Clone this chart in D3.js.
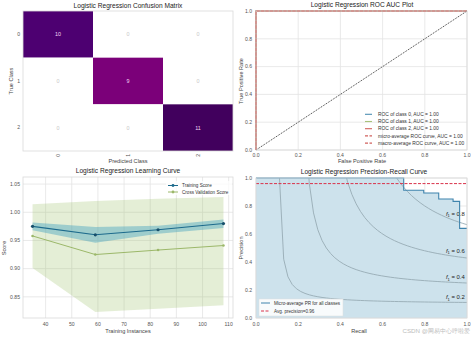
<!DOCTYPE html>
<html><head><meta charset="utf-8">
<script src="https://cdn.jsdelivr.net/npm/d3@7"></script>
<style>
html,body{margin:0;padding:0;background:#fff;}
svg text{font-family:"Liberation Sans",Arial,sans-serif;}
</style></head>
<body><svg id="c" width="474" height="337"></svg>
<script>
// ---------- data ----------
const cmClasses = ["0","1","2"];
const cmValues = [[10,0,0],[0,9,0],[0,0,11]];

const rocLabels = ["ROC of class 0, AUC = 1.00","ROC of class 1, AUC = 1.00","ROC of class 2, AUC = 1.00","micro-average ROC curve, AUC = 1.00","macro-average ROC curve, AUC = 1.00"];
const rocFpr = [0,0,1];
const rocTpr = [0,1,1];
const rocTicks = [0,0.2,0.4,0.6,0.8,1.0];

const lcSizes = [35,59,83,108];
const lcTrain = [0.975,0.960,0.969,0.980];
const lcTrainLo = [0.968,0.946,0.962,0.972];
const lcTrainHi = [0.982,0.974,0.976,0.987];
const lcCV = [0.958,0.925,0.933,0.941];
const lcCVLo = [0.901,0.823,0.829,0.835];
const lcCVHi = [1.014,1.020,1.024,1.027];
const lcXTicks = [40,50,60,70,80,90,100,110];
const lcYTicks = [0.85,0.90,0.95,1.00,1.05];

const prRecall = [0,0.70,0.795,0.866,0.934,0.965,1.0];
const prPrecision = [1.0,0.912,0.893,0.850,0.833,0.640,0.640];
const prAvg = 0.96;
const f1Values = [0.2,0.4,0.6,0.8];

const svg = d3.select("#c");
const grid = "#e3e3e3", frame = "#d9d9d9", tickCol = "#555", labCol = "#444";
const fT = 6.6, fTick = 5.1, fLab = 5.6;

function title(x, y, t){ svg.append("text").attr("x",x).attr("y",y).attr("text-anchor","middle").attr("font-size",fT).attr("fill","#222").text(t); }
function label(x,y,t,rot){ const e=svg.append("text").attr("text-anchor","middle").attr("font-size",fLab).attr("fill",labCol).text(t);
  if(rot) e.attr("transform",`translate(${x},${y}) rotate(-90)`); else e.attr("x",x).attr("y",y); }
function frameRect(x0,y0,x1,y1){ svg.append("rect").attr("x",x0).attr("y",y0).attr("width",x1-x0).attr("height",y1-y0).attr("fill","none").attr("stroke",frame).attr("stroke-width",0.8); }
function xTicks(scale, ticks, y, fmt){ ticks.forEach(t=>svg.append("text").attr("x",scale(t)).attr("y",y).attr("text-anchor","middle").attr("font-size",fTick).attr("fill",tickCol).text(fmt(t))); }
function yTicks(scale, ticks, x, fmt){ ticks.forEach(t=>svg.append("text").attr("x",x).attr("y",scale(t)+1.7).attr("text-anchor","end").attr("font-size",fTick).attr("fill",tickCol).text(fmt(t))); }
function gridLines(xs, ys, xScale, yScale, g){
  xs.forEach(t=>g.append("line").attr("x1",xScale(t)).attr("x2",xScale(t)).attr("y1",yScale.range()[0]).attr("y2",yScale.range()[1]).attr("stroke",grid).attr("stroke-width",0.8));
  ys.forEach(t=>g.append("line").attr("y1",yScale(t)).attr("y2",yScale(t)).attr("x1",xScale.range()[0]).attr("x2",xScale.range()[1]).attr("stroke",grid).attr("stroke-width",0.8));
}

// ---------- 1. Confusion matrix ----------
(function(){
  const x = d3.scaleBand().domain(cmClasses).range([23,233]);
  const y = d3.scaleBand().domain(cmClasses).range([11,151]);
  const color = d3.scaleLinear().domain([9,10,11]).range(["#7b0079","#4d0071","#41005d"]);
  const g = svg.append("g");
  cmValues.forEach((row,i)=>row.forEach((v,j)=>{
    g.append("rect").attr("x",x(cmClasses[j])).attr("y",y(cmClasses[i])).attr("width",x.bandwidth()).attr("height",y.bandwidth())
      .attr("fill", v===0 ? "#fff" : color(v));
    g.append("text").attr("x",x(cmClasses[j])+x.bandwidth()/2).attr("y",y(cmClasses[i])+y.bandwidth()/2+1.9)
      .attr("text-anchor","middle").attr("font-size",5.4).attr("fill", v===0 ? "#c8c8c8" : "#f3d6f3").text(v);
  }));
  frameRect(23,11,233,151);
  title(128,7.5,"Logistic Regression Confusion Matrix");
  cmClasses.forEach(c=>{
    svg.append("text").attr("x",20).attr("y",y(c)+y.bandwidth()/2+1.8).attr("text-anchor","end").attr("font-size",fTick).attr("fill",tickCol).text(c);
    svg.append("text").attr("transform",`translate(${x(c)+x.bandwidth()/2+1.7},${154}) rotate(-90)`).attr("text-anchor","end").attr("font-size",fTick).attr("fill",tickCol).text(c);
  });
  label(128,163,"Predicted Class");
  label(13,81,"True Class",true);
})();

// ---------- 2. ROC AUC ----------
(function(){
  const x = d3.scaleLinear().domain([0,1]).range([256,467]);
  const y = d3.scaleLinear().domain([0,1]).range([150,11]);
  const g = svg.append("g");
  gridLines(rocTicks, rocTicks, x, y, g);
  const pts = rocFpr.map((f,i)=>[f,rocTpr[i]]);
  const line = d3.line().x(d=>x(d[0])).y(d=>y(d[1]));
  const cols = ["#4d8fb3","#a8c27a","#d1615d","#d1615d","#d1615d"];
  const dashes = [null,null,null,"3,1.5","3,1.5"];
  cols.forEach((c,i)=>g.append("path").attr("d",line(pts)).attr("fill","none").attr("stroke",c).attr("stroke-width",1.1).attr("stroke-dasharray",dashes[i]));
  g.append("path").attr("d",line([[0,0],[1,1]])).attr("fill","none").attr("stroke","#222").attr("stroke-width",0.9).attr("stroke-dasharray","1,1");
  frameRect(256,11,467,150);
  title(362,7,"Logistic Regression ROC AUC Plot");
  xTicks(x, rocTicks, 157, d3.format(".1f"));
  yTicks(y, rocTicks, 252, d3.format(".1f"));
  label(362,163,"False Positive Rate");
  label(243,81,"True Positive Rate",true);
  rocLabels.forEach((t,i)=>{
    const yy = 114.3 + i*7.2;
    svg.append("line").attr("x1",365).attr("x2",372).attr("y1",yy).attr("y2",yy).attr("stroke",cols[i]).attr("stroke-width",1.1).attr("stroke-dasharray",dashes[i]);
    svg.append("text").attr("x",378).attr("y",yy+1.7).attr("font-size",4.9).attr("fill","#333").text(t);
  });
})();

// ---------- 3. Learning curve ----------
(function(){
  const x = d3.scaleLinear().domain([31.35,111.65]).range([23,233]);
  const y = d3.scaleLinear().domain([0.8125,1.0625]).range([318,177]);
  const g = svg.append("g");
  gridLines(lcXTicks, lcYTicks, x, y, g);
  const area = d3.area().x((d,i)=>x(lcSizes[i])).y0(d=>y(d[0])).y1(d=>y(d[1]));
  g.append("path").attr("d",area(lcCVLo.map((v,i)=>[v,lcCVHi[i]]))).attr("fill","#9dc16a").attr("fill-opacity",0.28);
  g.append("path").attr("d",area(lcTrainLo.map((v,i)=>[v,lcTrainHi[i]]))).attr("fill","#4aa3c0").attr("fill-opacity",0.45);
  const line = d3.line().x((d,i)=>x(lcSizes[i])).y(d=>y(d));
  g.append("path").attr("d",line(lcCV)).attr("fill","none").attr("stroke","#9cb86a").attr("stroke-width",1);
  g.append("path").attr("d",line(lcTrain)).attr("fill","none").attr("stroke","#1c6a8c").attr("stroke-width",1.1);
  lcCV.forEach((v,i)=>g.append("circle").attr("cx",x(lcSizes[i])).attr("cy",y(v)).attr("r",1.3).attr("fill","#9cb86a"));
  lcTrain.forEach((v,i)=>g.append("circle").attr("cx",x(lcSizes[i])).attr("cy",y(v)).attr("r",1.6).attr("fill","#174f6b"));
  frameRect(23,177,233,318);
  title(128,173,"Logistic Regression Learning Curve");
  xTicks(x, lcXTicks, 325.5, d3.format("d"));
  yTicks(y, lcYTicks, 20, d3.format(".2f"));
  label(128,332.5,"Training Instances");
  label(6,248,"Score",true);
  svg.append("rect").attr("x",166).attr("y",181).attr("width",66).attr("height",14).attr("fill","#fff").attr("fill-opacity",0.75);
  [["Training Score","#1c6a8c",185.5],["Cross Validation Score","#9cb86a",192]].forEach(([t,c,yy])=>{
    svg.append("line").attr("x1",168).attr("x2",178).attr("y1",yy).attr("y2",yy).attr("stroke",c).attr("stroke-width",1);
    svg.append("circle").attr("cx",173).attr("cy",yy).attr("r",1.4).attr("fill",c);
    svg.append("text").attr("x",182).attr("y",yy+1.6).attr("font-size",4.6).attr("fill","#333").text(t);
  });
})();

// ---------- 4. Precision-Recall ----------
(function(){
  const x = d3.scaleLinear().domain([0,1]).range([256,467]);
  const y = d3.scaleLinear().domain([0,1]).range([318,178]);
  const g = svg.append("g");
  gridLines(rocTicks, rocTicks, x, y, g);
  const pts = prRecall.map((r,i)=>[r,prPrecision[i]]);
  g.append("path").attr("d",d3.area().curve(d3.curveStepAfter).x(d=>x(d[0])).y0(y(0)).y1(d=>y(d[1]))(pts)).attr("fill","#cde2ec");
  // iso-F1 reference curves
  svg.append("clipPath").attr("id","prclip").append("rect").attr("x",256).attr("y",178).attr("width",211).attr("height",140);
  const xs = d3.range(50).map(i=>0.01+i*0.99/49);
  f1Values.forEach(f=>{
    const p = xs.map(v=>[v, f*v/(2*v-f)]).filter(d=>d[1]>=0);
    g.append("path").attr("clip-path","url(#prclip)").attr("d",d3.line().x(d=>x(d[0])).y(d=>y(d[1]))(p)).attr("fill","none").attr("stroke","#97abb4").attr("stroke-width",0.9);
    const ya = f*xs[45]/(2*xs[45]-f)+0.02;
    const t = g.append("text").attr("x",x(0.9)).attr("y",y(ya)).attr("font-size",5.9).attr("fill","#222");
    t.append("tspan").attr("font-style","italic").text("f");
    t.append("tspan").attr("font-size",4).attr("dy",1.3).text("1");
    t.append("tspan").attr("dy",-1.3).text(" = "+f.toFixed(1));
  });
  g.append("path").attr("d",d3.line().curve(d3.curveStepAfter).x(d=>x(d[0])).y(d=>y(d[1]))(pts)).attr("fill","none").attr("stroke","#3f84ad").attr("stroke-width",1.1);
  g.append("line").attr("x1",x(0)).attr("x2",x(1)).attr("y1",y(prAvg)).attr("y2",y(prAvg)).attr("stroke","#d9324a").attr("stroke-width",1).attr("stroke-dasharray","3,1.5");
  frameRect(256,178,467,318);
  title(364,174,"Logistic Regression Precision-Recall Curve");
  xTicks(x, rocTicks, 325.5, d3.format(".1f"));
  yTicks(y, rocTicks, 252, d3.format(".1f"));
  label(359,332.5,"Recall");
  label(243,248,"Precision",true);
  svg.append("rect").attr("x",259).attr("y",299).attr("width",84).attr("height",17).attr("fill","#fff").attr("fill-opacity",0.85).attr("stroke","#ddd").attr("stroke-width",0.5);
  [["Micro-average PR for all classes","#3f84ad",null,303],["Avg. precision=0.96","#d9324a","3,1.5",311]].forEach(([t,c,d,yy])=>{
    svg.append("line").attr("x1",261).attr("x2",270).attr("y1",yy).attr("y2",yy).attr("stroke",c).attr("stroke-width",1).attr("stroke-dasharray",d);
    svg.append("text").attr("x",274).attr("y",yy+1.6).attr("font-size",4.6).attr("fill","#333").text(t);
  });
  svg.append("text").attr("x",470).attr("y",333).attr("text-anchor","end").attr("font-size",6.2).attr("fill","#bdbdbd").attr("font-family","'Noto Sans CJK SC',sans-serif").text("CSDN @网易中心呼啦爱");
})();
</script></body></html>
